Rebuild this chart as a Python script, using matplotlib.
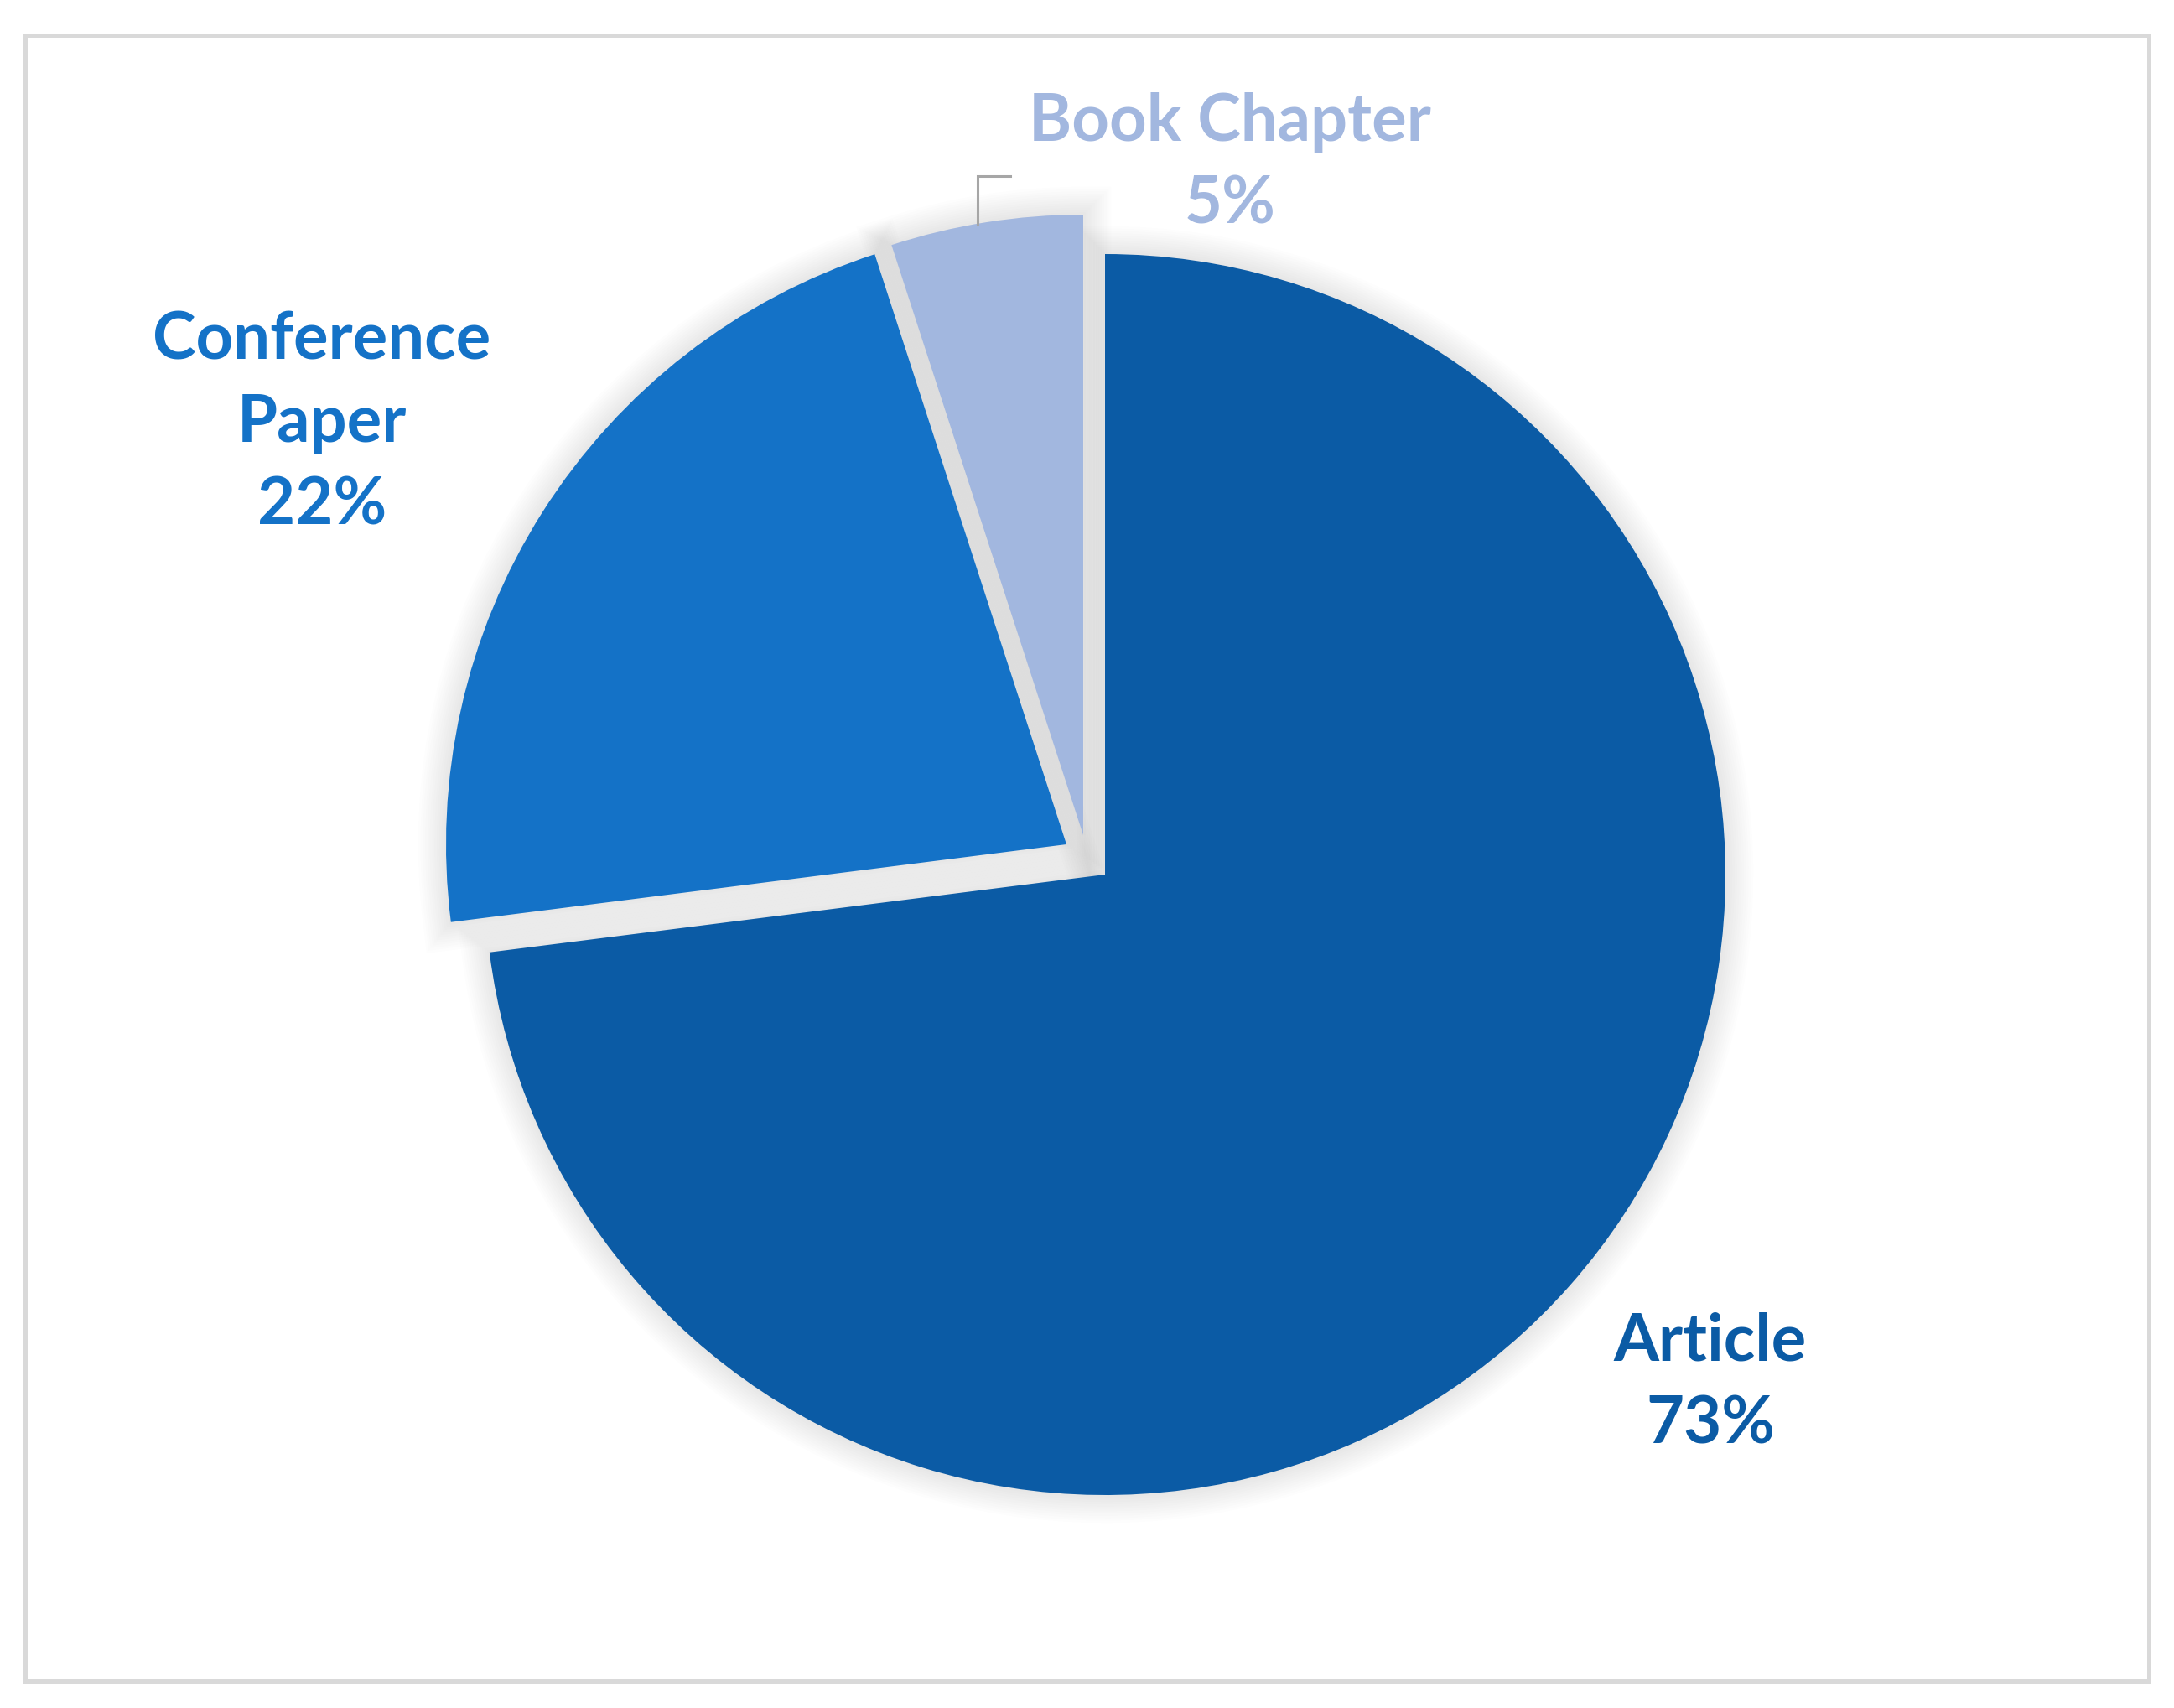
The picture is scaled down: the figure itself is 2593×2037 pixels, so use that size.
import matplotlib
matplotlib.use("Agg")
import matplotlib.pyplot as plt
import matplotlib.patheffects as pe
from matplotlib.patches import Rectangle

# Données du graphique
categories = ["Article", "Conference\nPaper", "Book Chapter"]
percentages = [73, 22, 5]
colors = ["#0B5BA5", "#1472C7", "#A2B7DF"]

W, H = 2593, 2037
fig = plt.figure(figsize=(W / 100, H / 100), dpi=100)
ax = fig.add_axes([0, 0, 1, 1])

center = (1318, 994)
radius = 740
# décalage des parts détachées (en pixels)
offsets = [(0, 0), (-46, 36), (-26, 47)]

# ombre douce derrière les parts
shadow = [pe.Stroke(linewidth=lw, foreground="black", alpha=0.009)
          for lw in range(48, 2, -4)]
shadow_wedges, _ = ax.pie(percentages, colors=["white"] * 3, startangle=90,
                          counterclock=False, center=center, radius=radius,
                          frame=True, wedgeprops=dict(linewidth=0))
for w, (dx, dy) in zip(shadow_wedges, offsets):
    w.set_center((center[0] + dx, center[1] + dy))
    w.set_path_effects(shadow)
    w.set_zorder(1)

wedges, _ = ax.pie(percentages, colors=colors, startangle=90,
                   counterclock=False, center=center, radius=radius,
                   frame=True, wedgeprops=dict(linewidth=0))
for w, (dx, dy) in zip(wedges, offsets):
    w.set_center((center[0] + dx, center[1] + dy))
    w.set_zorder(2)

ax.set_xlim(0, W)
ax.set_ylim(0, H)
ax.set_aspect("equal")
ax.axis("off")

# étiquettes
label_pos = [(2040, 387), (384, 1532), (1467, 1842)]
for cat, pct, col, (x, y) in zip(categories, percentages, colors, label_pos):
    ax.text(x, y, f"{cat}\n{pct}%", ha="center", va="center", color=col,
            fontsize=56, fontweight="bold", family="Lato", linespacing=1.45,
            zorder=5)

# trait de rappel pour Book Chapter
ax.plot([1166, 1166, 1205], [1770, 1827, 1827], color="#A6A6A6", lw=2.2,
        solid_joinstyle="miter", zorder=3)

# cadre du graphique
ax.add_patch(Rectangle((30, 32), 2533, 1963, fill=False, edgecolor="#D9D9D9",
                       linewidth=3.6, zorder=0))

fig.savefig("out.png", dpi=100)
